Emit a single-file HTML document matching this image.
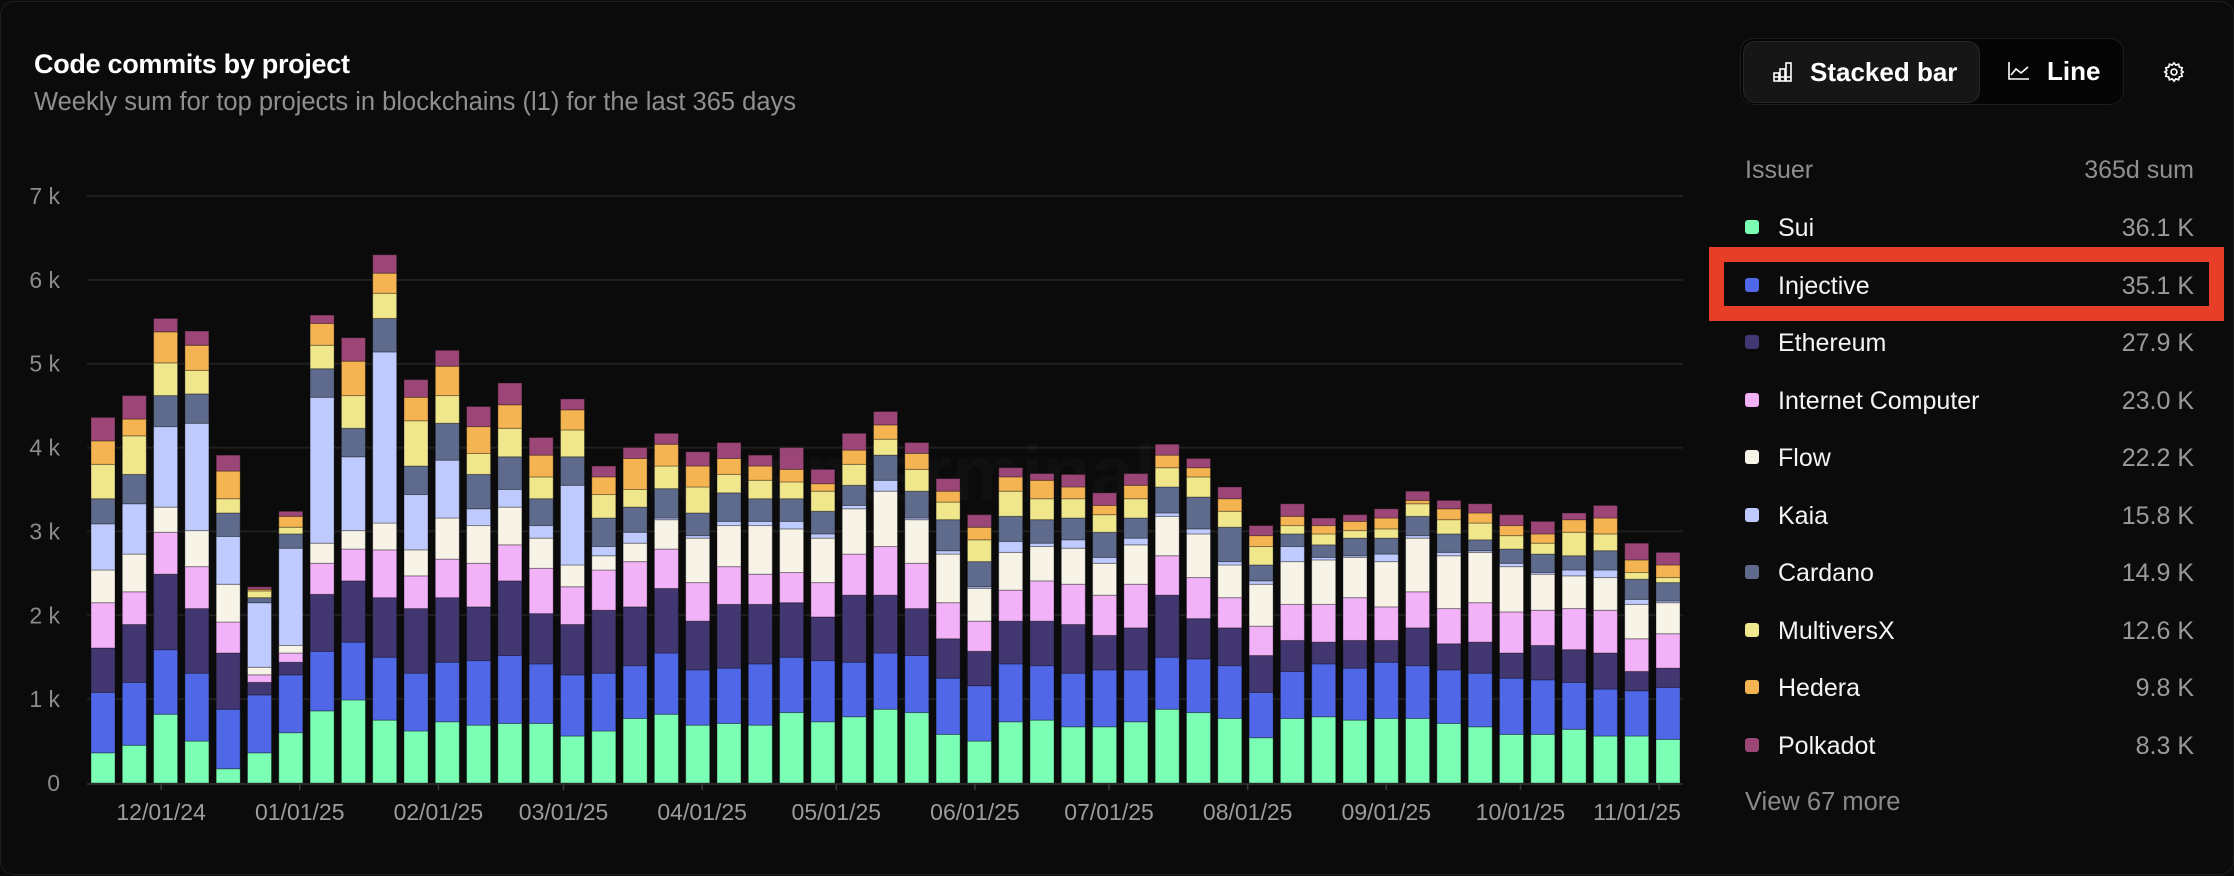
<!DOCTYPE html>
<html><head><meta charset="utf-8">
<style>
html,body{margin:0;padding:0;background:#0b0b0b;}
body{width:2234px;height:876px;position:relative;overflow:hidden;font-family:"Liberation Sans",sans-serif;color:#fff;}
.panel{position:absolute;left:0;top:1px;width:2232px;height:872px;border:1px solid #1e1e1e;border-radius:14px;background:#0b0b0b;}
.title{position:absolute;left:34px;top:49px;font-size:27px;font-weight:600;letter-spacing:-0.3px;}
.sub{position:absolute;left:34px;top:88px;font-size:25.5px;color:#8f8f8f;}
.toggle{position:absolute;left:1740px;top:38px;width:382px;height:65px;border:1px solid #1c1c1c;border-radius:14px;background:#050505;}
.btn{position:absolute;height:60px;top:2px;border-radius:12px;font-size:26px;font-weight:600;line-height:60px;}
.btn.sel{left:2px;width:235px;background:#161616;border:1px solid #262626;}
.btn svg{position:absolute;top:20px;}
.gear{position:absolute;left:2163px;top:61px;}
.lh{position:absolute;top:156px;font-size:25px;color:#8f8f8f;}
.row{position:absolute;left:1745px;width:449px;height:40px;font-size:25px;}
.row .dot{position:absolute;left:0;top:11px;width:14px;height:14px;border-radius:3px;}
.row .nm{position:absolute;left:33px;top:5px;color:#f4f4f4;}
.row .vl{position:absolute;right:0;top:5px;color:#9a9a9a;}
.hl{position:absolute;left:1709px;top:247px;width:485px;height:44px;border:15px solid #e63e27;}
.more{position:absolute;left:1745px;top:788px;font-size:25.5px;color:#8a8a8a;}
</style></head><body>
<div class="panel"></div>
<div class="title">Code commits by project</div>
<div class="sub">Weekly sum for top projects in blockchains (l1) for the last 365 days</div>

<div class="toggle">
  <div class="btn sel">
    <svg width="20" height="20" viewBox="0 0 20 20" style="left:29px"><g fill="none" stroke="#fff" stroke-width="1.6"><rect x="1" y="11" width="5" height="8"/><rect x="7" y="7" width="5" height="12"/><rect x="13" y="1" width="5" height="18"/><line x1="1" y1="15" x2="18" y2="15"/></g></svg>
    <span style="position:absolute;left:66px;">Stacked bar</span>
  </div>
  <div class="btn" style="left:240px;width:140px;">
    <svg width="22" height="18" viewBox="0 0 22 18" style="left:27px;top:21px"><polyline points="1,0 1,17 21,17" fill="none" stroke="#fff" stroke-width="1.6"/><polyline points="3,13 8,7 13,11 20,5" fill="none" stroke="#fff" stroke-width="1.6"/></svg>
    <span style="position:absolute;left:66px;">Line</span>
  </div>
</div>
<svg class="gear" width="22" height="22" viewBox="0 0 24 24"><g fill="none" stroke="#fff" stroke-width="1.8"><circle cx="12" cy="12" r="3.2"/><path d="M12 2l2 2.5 3-1 .8 3.1 3.1.8-1 3L22 12l-2.1 1.6 1 3-3.1.8-.8 3.1-3-1L12 22l-2-2.5-3 1-.8-3.1-3.1-.8 1-3L2 12l2.1-1.6-1-3 3.1-.8.8-3.1 3 1z"/></g></svg>

<div class="lh" style="left:1745px">Issuer</div>
<div class="lh" style="left:2044px;width:150px;text-align:right">365d sum</div>
<div id="legend"></div>
<div class="hl"></div>
<div class="more">View 67 more</div>

<svg id="chart" width="2234" height="876" style="position:absolute;left:0;top:0"></svg>

<script>
const seriesNames = ["Sui","Injective","Ethereum","Internet Computer","Flow","Kaia","Cardano","MultiversX","Hedera","Polkadot"];
const seriesColors = ["#7bffb5","#5068e8","#433771","#f2b2f8","#f7f4e7","#bfcbff","#5f6b8c","#f0e68c","#f4b452","#9c4677"];
const legendSums = ["36.1 K","35.1 K","27.9 K","23.0 K","22.2 K","15.8 K","14.9 K","12.6 K","9.8 K","8.3 K"];
const sui = [360,450,820,500,170,360,600,860,990,750,620,730,690,710,710,560,620,770,820,690,710,690,840,730,790,880,840,580,500,730,750,670,670,730,880,840,770,540,770,790,750,770,770,710,670,580,580,640,560,560,520];
const injective = [720,750,770,810,710,690,690,710,690,750,690,710,770,810,710,730,690,630,730,660,660,730,660,730,650,670,680,670,660,690,650,640,680,620,620,640,630,540,560,630,620,670,630,640,640,670,650,560,560,540,620];
const ethereum = [530,690,900,770,670,150,150,680,730,710,770,770,640,890,600,600,750,700,770,580,760,710,650,520,800,690,560,470,410,510,530,580,410,500,740,480,450,440,370,260,330,260,450,310,370,300,410,390,430,230,230];
const internetComputer = [540,390,500,500,370,90,110,370,380,570,390,460,520,430,540,450,480,540,470,460,450,360,360,410,490,580,540,430,360,370,480,480,480,520,470,490,360,350,430,450,510,400,430,420,470,490,420,490,510,390,410];
const flow = [390,450,300,430,450,90,90,240,220,320,310,490,450,450,360,260,170,220,350,530,490,580,520,530,540,660,520,580,390,450,410,430,380,470,470,520,390,500,510,530,480,540,640,630,600,540,430,390,390,410,370];
const kaia = [550,600,960,1280,570,770,1160,1740,880,2040,660,690,200,210,150,950,110,130,20,30,50,50,90,50,40,130,20,40,20,130,40,100,70,80,40,60,40,40,180,30,20,90,30,40,20,40,20,70,90,60,20];
const cardano = [300,350,370,350,280,60,170,340,340,400,340,440,410,390,320,340,340,300,350,270,340,270,270,270,240,300,320,370,300,300,280,260,300,240,310,380,410,190,150,150,210,190,230,220,130,170,220,170,230,240,220];
const multiversx = [410,460,390,280,170,80,80,280,390,300,540,330,250,340,260,320,280,210,270,310,220,220,200,240,250,190,260,210,260,300,250,230,210,230,230,240,190,220,100,130,90,110,150,170,200,160,130,280,200,80,60];
const hedera = [280,200,370,300,330,20,130,260,410,240,280,350,320,280,260,240,210,370,260,250,190,170,150,90,170,170,190,130,150,170,220,140,110,160,150,110,150,130,110,100,110,130,40,130,120,120,110,150,190,150,150];
const polkadot = [280,280,160,170,190,30,60,100,280,220,210,190,240,260,210,130,130,130,130,170,190,130,260,170,200,160,130,150,150,110,80,150,150,140,130,110,140,120,150,90,80,110,110,100,110,130,150,80,150,200,150];
const yTicks = [0,1000,2000,3000,4000,5000,6000,7000];
const yTickLabels = ["0","1 k","2 k","3 k","4 k","5 k","6 k","7 k"];
const xTickDates = ["2024-12-01","2025-01-01","2025-02-01","2025-03-01","2025-04-01","2025-05-01","2025-06-01","2025-07-01","2025-08-01","2025-09-01","2025-10-01","2025-11-01"];
const xTickLabels = ["12/01/24","01/01/25","02/01/25","03/01/25","04/01/25","05/01/25","06/01/25","07/01/25","08/01/25","09/01/25","10/01/25","11/01/25"];
const firstWeek = "2024-11-18";

const allSeries = [sui,injective,ethereum,internetComputer,flow,kaia,cardano,multiversx,hedera,polkadot];
const NS="http://www.w3.org/2000/svg";
const svg=document.getElementById('chart');
const Y0=783, YMAX=7000, YTOP=196, XL=87, XR=1683, X0=103, STEP=31.3, BW=24;
function yScale(v){return Y0-(v/YMAX)*(Y0-YTOP);}
function xIndex(i){return X0+STEP*i;}
function xDate(s){const d=(Date.parse(s)-Date.parse(firstWeek))/86400000;return X0+STEP*d/7;}
function mk(tag,attrs){const e=document.createElementNS(NS,tag);for(const k in attrs)e.setAttribute(k,attrs[k]);svg.appendChild(e);return e;}

yTicks.forEach((t,i)=>{
  const y=yScale(t);
  if(t>0){const g=mk('line',{x1:XL,x2:XR,y1:y,y2:y,stroke:'#1f1f1f','stroke-width':2});
  
  }
  const tx=mk('text',{x:60,y:y+8,'text-anchor':'end',fill:'#8c8c8c','font-size':23,'font-family':'Liberation Sans, sans-serif'});
  tx.textContent=yTickLabels[i];
  
  
});
const wm=mk('text',{x:900,y:500,'text-anchor':'middle',fill:'#ffffff','fill-opacity':0.025,'font-size':78,'font-weight':'bold','font-family':'Liberation Sans, sans-serif'});
wm.textContent='tokenterminal';



for(let i=0;i<sui.length;i++){
  let acc=0;
  allSeries.forEach((s,k)=>{
    const v=s[i];const y1=yScale(acc), y2=yScale(acc+v);acc+=v;
    const r=mk('rect',{x:xIndex(i)-BW/2,y:y2,width:BW,height:Math.max(0,y1-y2),fill:seriesColors[k],stroke:'#0b0b0b','stroke-opacity':0.35,'stroke-width':1});
    
    
  });
}
const ax=mk('line',{x1:XL,x2:XR,y1:Y0+1,y2:Y0+1,stroke:'#2a2a2a','stroke-width':2});


xTickDates.forEach((d,i)=>{
  const x=xDate(d);
  const tk=mk('line',{x1:x,x2:x,y1:Y0+1,y2:Y0+7,stroke:'#3a3a3a','stroke-width':1.5});
  
  
  const lx=Math.min(x,1637);
  const tx=mk('text',{x:lx,y:820,'text-anchor':'middle',fill:'#9c9c9c','font-size':23,'font-family':'Liberation Sans, sans-serif'});
  tx.textContent=xTickLabels[i];
  
  
});

const lg=document.getElementById('legend');
seriesNames.forEach((n,k)=>{
  const r=document.createElement('div');r.className='row';r.style.top=(209+57.5*k)+'px';
  
  
  r.innerHTML='<div class="dot" style="background:'+seriesColors[k]+'"></div><div class="nm">'+n+'</div><div class="vl">'+legendSums[k]+'</div>';
  lg.appendChild(r);
});
</script>
</body></html>
